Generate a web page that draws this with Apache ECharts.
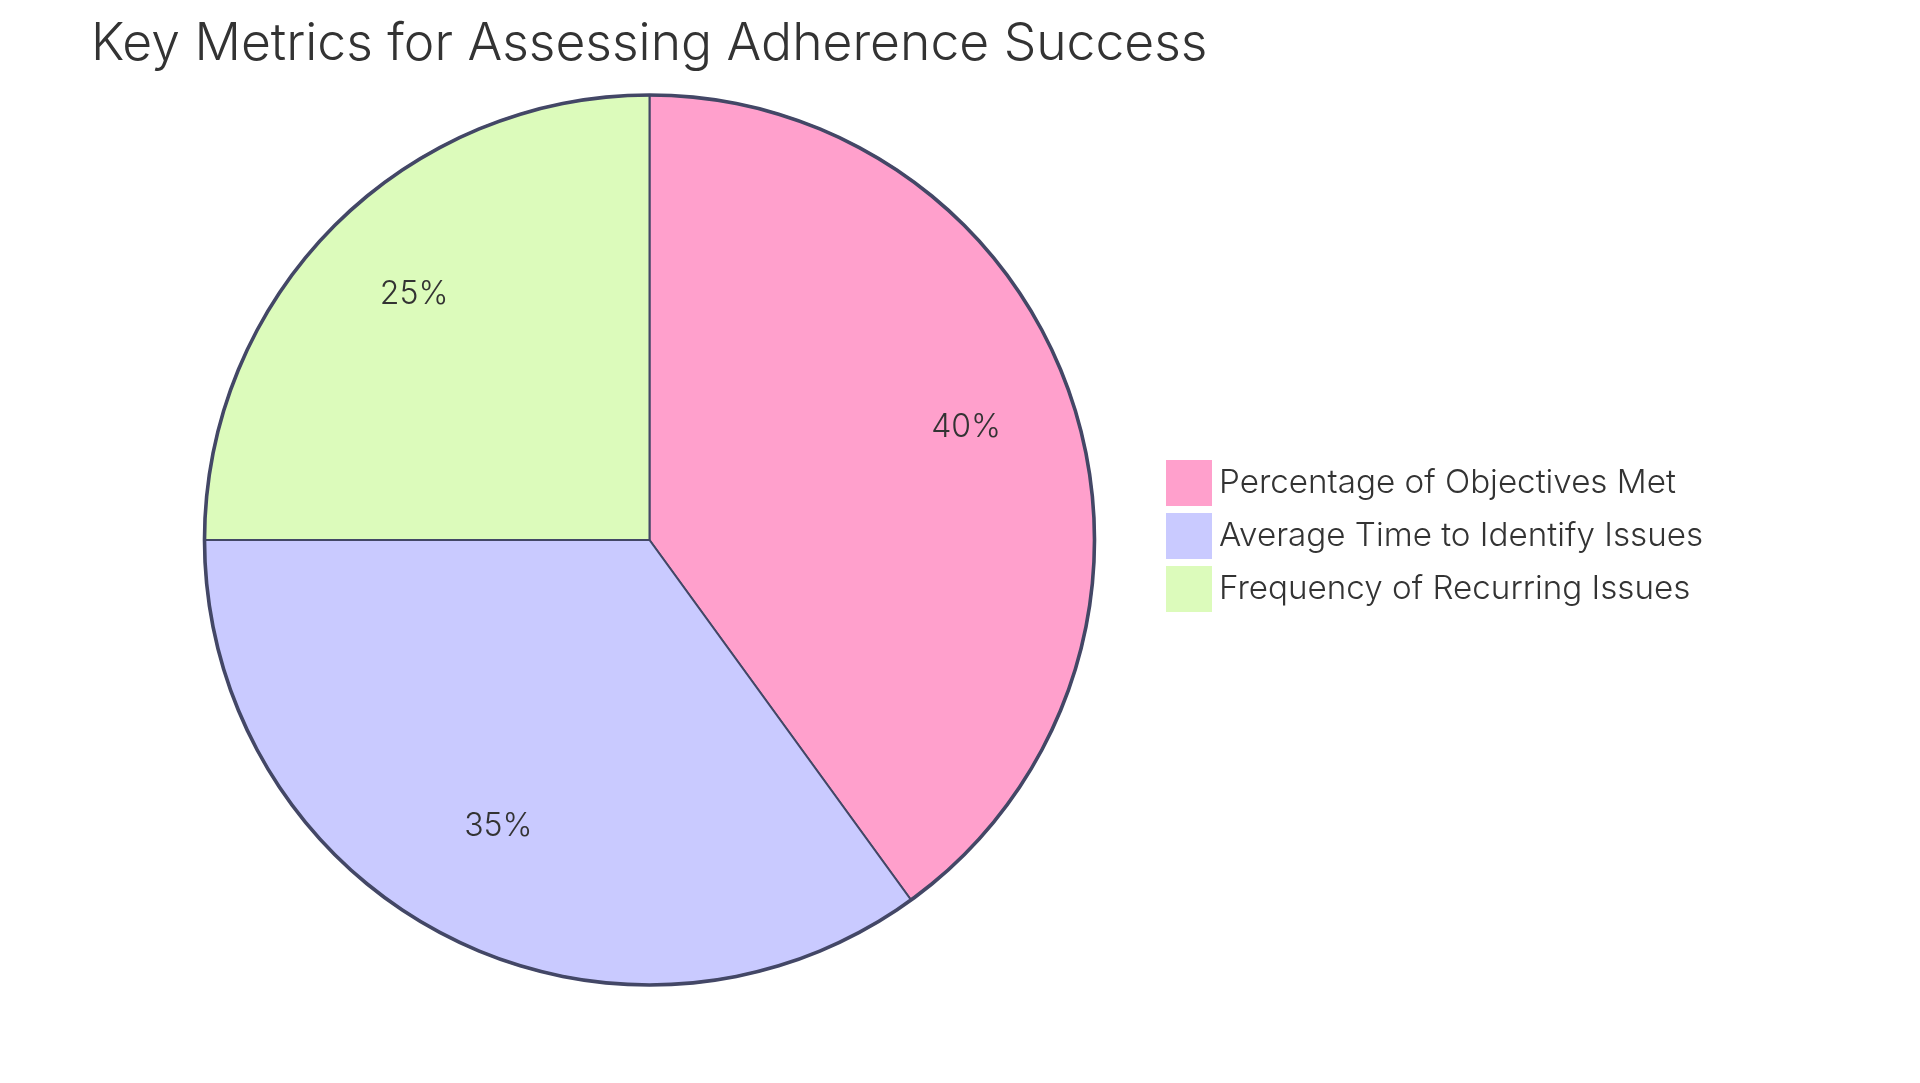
<!DOCTYPE html>
<html>
<head>
<meta charset="utf-8">
<title>Key Metrics for Assessing Adherence Success</title>
<script src="https://cdn.jsdelivr.net/npm/echarts@6/dist/echarts.min.js"></script>
<style>
    html, body { margin: 0; padding: 0; background: #fff; }
    #chart { width: 1920px; height: 1083px; }
</style>
</head>
<body>
<div id="chart"></div>
<script>
var titleText = 'Key Metrics for Assessing Adherence Success';
var categories = ['Percentage of Objectives Met', 'Average Time to Identify Issues', 'Frequency of Recurring Issues'];
var values = [40, 35, 25];
var colors = ['#FFA0CC', '#C9CAFF', '#DCFBBB'];

var fontName = 'Inter';
var textColor = '#333333';
var strokeColor = '#434766';
var center = [649.5, 540];
var radius = 445;

var pieData = categories.map(function (name, i) {
    return { name: name, value: values[i], itemStyle: { color: colors[i] } };
});
var total = values.reduce(function (a, b) { return a + b; }, 0);

var myChart = echarts.init(document.getElementById('chart'), null, { renderer: 'canvas' });
myChart.setOption({
    animation: false,
    backgroundColor: '#ffffff',
    title: {
        text: titleText,
        left: 86,
        top: 13,
        textStyle: { fontFamily: fontName, fontSize: 51.6, fontWeight: 300, color: textColor }
    },
    legend: {
        orient: 'vertical',
        left: 1161,
        top: 455,
        data: categories,
        icon: 'rect',
        itemWidth: 46,
        itemHeight: 46,
        itemGap: 7,
        selectedMode: false,
        itemStyle: { borderWidth: 0 },
        textStyle: { fontFamily: fontName, fontSize: 33.2, fontWeight: 300, color: textColor, padding: [0, 0, 0, 2] }
    },
    series: [{
        type: 'pie',
        center: center,
        radius: radius,
        startAngle: 90,
        silent: true,
        label: { show: false },
        labelLine: { show: false },
        itemStyle: { borderColor: strokeColor, borderWidth: 2 },
        data: pieData
    }, {
        // labels sit in the middle of this invisible ring, about 0.74 of the radius
        type: 'pie',
        center: center,
        radius: [radius * 0.483, radius],
        startAngle: 90,
        silent: true,
        labelLine: { show: false },
        itemStyle: { color: 'transparent', borderWidth: 0 },
        label: {
            show: true,
            position: 'inside',
            formatter: '{c}%',
            offset: [0, -10],
            fontFamily: fontName,
            fontSize: 32,
            fontWeight: 300,
            color: textColor
        },
        data: categories.map(function (name, i) {
            return { name: name, value: values[i], itemStyle: { color: 'transparent' } };
        })
    }, {
        // outer outline
        type: 'pie',
        center: center,
        radius: [radius - 1.8, radius + 1.8],
        silent: true,
        label: { show: false },
        labelLine: { show: false },
        itemStyle: { color: strokeColor, borderWidth: 0 },
        data: [{ name: 'outline', value: total }]
    }]
});
</script>
</body>
</html>
